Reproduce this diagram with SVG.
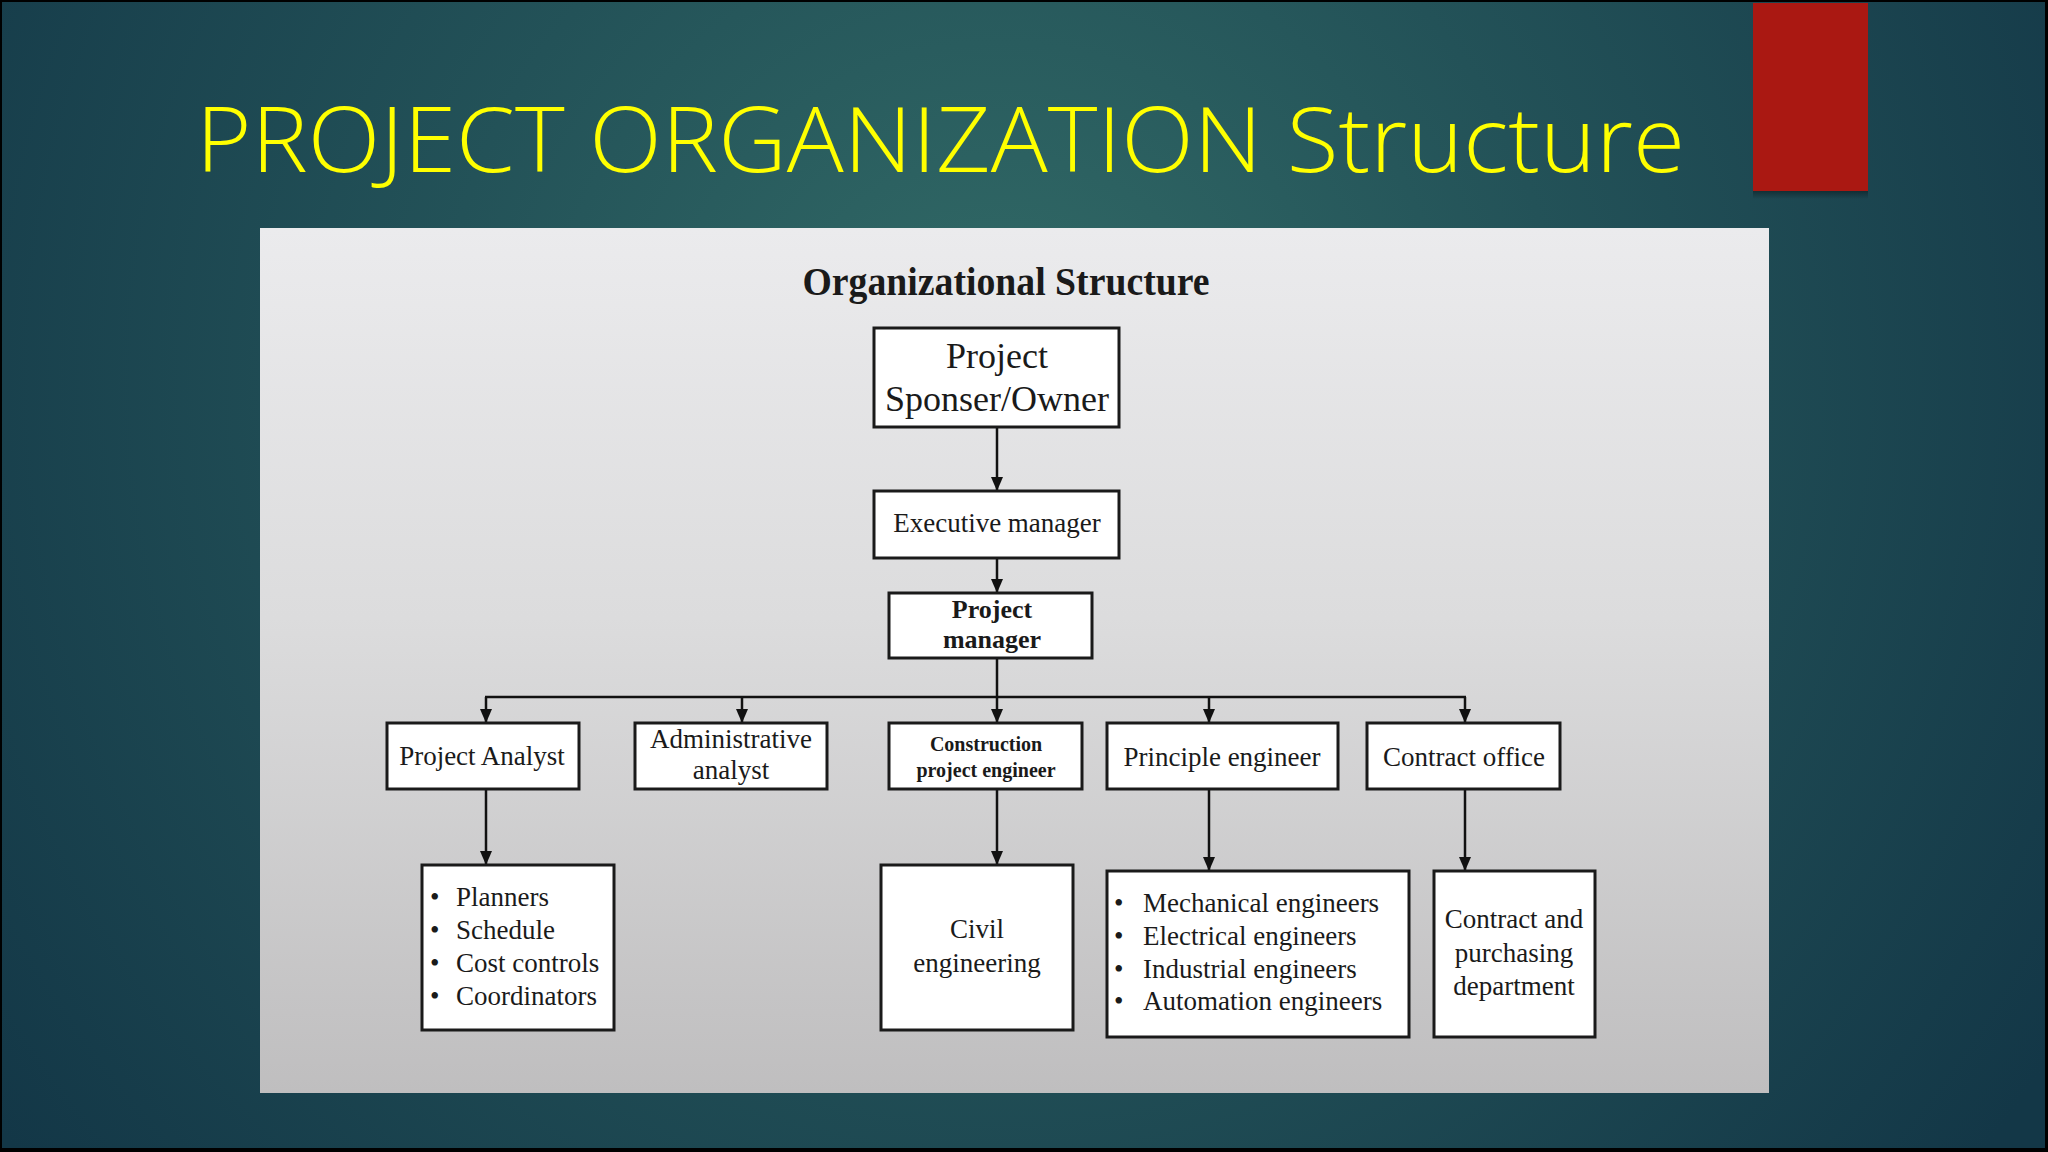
<svg xmlns="http://www.w3.org/2000/svg" width="2048" height="1152" viewBox="0 0 2048 1152">
  <defs>
    <radialGradient id="bg" cx="1000" cy="380" r="1250" gradientUnits="userSpaceOnUse">
      <stop offset="0" stop-color="#326b67"/>
      <stop offset="0.45" stop-color="#235258"/>
      <stop offset="1" stop-color="#133747"/>
    </radialGradient>
    <linearGradient id="panel" x1="0" y1="0" x2="0" y2="1">
      <stop offset="0" stop-color="#ebebed"/>
      <stop offset="0.45" stop-color="#dcdcdd"/>
      <stop offset="1" stop-color="#bfbebf"/>
    </linearGradient>
    <linearGradient id="shadow" x1="0" y1="0" x2="0" y2="1">
      <stop offset="0" stop-color="#000" stop-opacity="0.35"/>
      <stop offset="1" stop-color="#000" stop-opacity="0"/>
    </linearGradient>
    <marker id="arr" markerUnits="userSpaceOnUse" markerWidth="14" markerHeight="12" viewBox="0 0 14 12" refX="14" refY="6" orient="auto">
      <path d="M0,0 L14,6 L0,12 Z" fill="#111"/>
    </marker>
    <style>
      .box { fill: #ffffff; stroke: #1a1a1a; stroke-width: 3; }
      .t { font-family: "Liberation Serif", "Times New Roman", serif; fill: #1a1a1a; font-size: 27px; }
      .tc { text-anchor: middle; }
      .b { font-weight: bold; }
      .big { font-size: 36px; }
      .head { font-size: 40px; }
      .pm { font-size: 26px; }
      .small { font-size: 20px; }
      .con { stroke: #111; stroke-width: 2.5; fill: none; }
      .arrow { marker-end: url(#arr); }
    </style>
  </defs>

  <!-- slide background -->
  <rect x="0" y="0" width="2048" height="1152" fill="#000"/>
  <rect x="2" y="2" width="2043" height="1146" fill="url(#bg)"/>

  <!-- red accent bar -->
  <rect x="1753" y="191" width="115" height="8" fill="url(#shadow)"/>
  <rect x="1753" y="3" width="115" height="188" fill="#aa1812"/>

  <!-- title -->
  <text x="196" y="172" font-family="'Open Sans', 'Lato', 'Liberation Sans', sans-serif" font-weight="300" font-size="90" fill="#ffff00" textLength="1489" lengthAdjust="spacingAndGlyphs">PROJECT ORGANIZATION Structure</text>

  <!-- diagram panel -->
  <rect x="260" y="228" width="1509" height="865" fill="url(#panel)"/>

  <text class="t tc b head" x="1006" y="295" textLength="407" lengthAdjust="spacingAndGlyphs">Organizational Structure</text>

  <!-- connectors -->
  <g id="connectors">
    <line class="con arrow" x1="997" y1="427" x2="997" y2="491"/>
    <line class="con arrow" x1="997" y1="558" x2="997" y2="593"/>
    <line class="con" x1="997" y1="658" x2="997" y2="697"/>
    <line class="con" x1="485" y1="697" x2="1466" y2="697"/>
    <line class="con arrow" x1="486" y1="697" x2="486" y2="723"/>
    <line class="con arrow" x1="742" y1="697" x2="742" y2="723"/>
    <line class="con arrow" x1="997" y1="697" x2="997" y2="723"/>
    <line class="con arrow" x1="1209" y1="697" x2="1209" y2="723"/>
    <line class="con arrow" x1="1465" y1="697" x2="1465" y2="723"/>
    <line class="con arrow" x1="486" y1="789" x2="486" y2="865"/>
    <line class="con arrow" x1="997" y1="789" x2="997" y2="865"/>
    <line class="con arrow" x1="1209" y1="789" x2="1209" y2="871"/>
    <line class="con arrow" x1="1465" y1="789" x2="1465" y2="871"/>
  </g>

  <!-- nodes -->
  <g id="sponsor">
    <rect class="box" x="874" y="328" width="245" height="99"/>
    <text class="t tc big" x="997" y="368">Project</text>
    <text class="t tc big" x="997" y="411">Sponser/Owner</text>
  </g>

  <g id="executive">
    <rect class="box" x="874" y="491" width="245" height="67"/>
    <text class="t tc" x="997" y="532">Executive manager</text>
  </g>

  <g id="pm">
    <rect class="box" x="889" y="593" width="203" height="65"/>
    <text class="t tc b pm" x="992" y="618">Project</text>
    <text class="t tc b pm" x="992" y="648">manager</text>
  </g>

  <g id="analyst">
    <rect class="box" x="387" y="723" width="192" height="66"/>
    <text class="t tc" x="482" y="765">Project Analyst</text>
  </g>

  <g id="admin">
    <rect class="box" x="635" y="723" width="192" height="66"/>
    <text class="t tc" x="731" y="748">Administrative</text>
    <text class="t tc" x="731" y="779">analyst</text>
  </g>

  <g id="construction">
    <rect class="box" x="889" y="723" width="193" height="66"/>
    <text class="t tc b small" x="986" y="751">Construction</text>
    <text class="t tc b small" x="986" y="777">project engineer</text>
  </g>

  <g id="principle">
    <rect class="box" x="1107" y="723" width="231" height="66"/>
    <text class="t tc" x="1222" y="766">Principle engineer</text>
  </g>

  <g id="contract">
    <rect class="box" x="1367" y="723" width="193" height="66"/>
    <text class="t tc" x="1464" y="766">Contract office</text>
  </g>

  <g id="planners">
    <rect class="box" x="422" y="865" width="192" height="165"/>
    <text class="t" x="430" y="906">•</text>
    <text class="t" x="456" y="906">Planners</text>
    <text class="t" x="430" y="939">•</text>
    <text class="t" x="456" y="939">Schedule</text>
    <text class="t" x="430" y="972">•</text>
    <text class="t" x="456" y="972">Cost controls</text>
    <text class="t" x="430" y="1005">•</text>
    <text class="t" x="456" y="1005">Coordinators</text>
  </g>

  <g id="civil">
    <rect class="box" x="881" y="865" width="192" height="165"/>
    <text class="t tc" x="977" y="938">Civil</text>
    <text class="t tc" x="977" y="972">engineering</text>
  </g>

  <g id="engineers">
    <rect class="box" x="1107" y="871" width="302" height="166"/>
    <text class="t" x="1114" y="912">•</text>
    <text class="t" x="1143" y="912">Mechanical engineers</text>
    <text class="t" x="1114" y="945">•</text>
    <text class="t" x="1143" y="945">Electrical engineers</text>
    <text class="t" x="1114" y="978">•</text>
    <text class="t" x="1143" y="978">Industrial engineers</text>
    <text class="t" x="1114" y="1010">•</text>
    <text class="t" x="1143" y="1010">Automation engineers</text>
  </g>

  <g id="purchasing">
    <rect class="box" x="1434" y="871" width="161" height="166"/>
    <text class="t tc" x="1514" y="928">Contract and</text>
    <text class="t tc" x="1514" y="962">purchasing</text>
    <text class="t tc" x="1514" y="995">department</text>
  </g>
</svg>
